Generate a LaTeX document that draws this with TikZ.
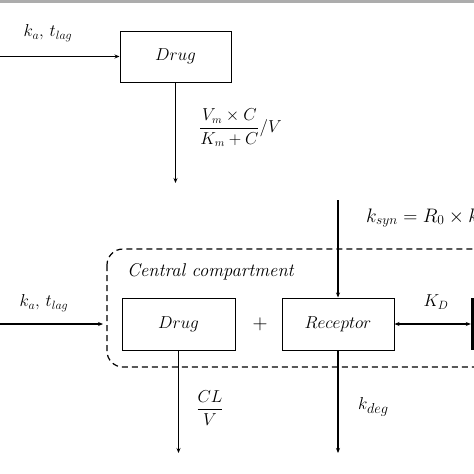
\documentclass[tikz,border=0pt]{standalone}
\usepackage{amsmath}
\usetikzlibrary{arrows.meta}
\begin{document}
\begin{tikzpicture}[x=1pt,y=-1pt,
  box/.style={draw,line width=1pt,minimum width=#1,minimum height=51pt,inner sep=0pt},
  lab/.style={inner sep=0pt,font=\fontsize{17}{20}\selectfont},
  flow/.style={line width=1.1pt,-{Stealth[length=5pt,width=4pt]}},
  both/.style={line width=1.1pt,{Stealth[length=5pt,width=4pt]}-{Stealth[length=5pt,width=4pt]}}]
\useasboundingbox (0,0) rectangle (474,474);
\clip (0,0) rectangle (474,474);
\fill[gray!65] (0,0) rectangle (474,2.5);
% top part
\node[box=111pt,lab] (drugT) at (175.5,56.5) {$Drug$};
\coordinate (inT) at (0,56.5);
\coordinate (outT) at (175.5,183);
\draw[flow] (inT) -- (drugT.west);
\draw[flow] (drugT.south) -- (outT);
\node[lab] (kaT) at (48,33) {$k_a,\, t_{lag}$};
\node[lab,anchor=west,font=\fontsize{16}{19}\selectfont] (vm) at (199,128) {$\dfrac{V_m\times C}{K_m+C}/V$};
% compartment
\draw[dashed,line width=1.2pt,dash pattern=on 6pt off 4pt,rounded corners=16pt] (107,249) rectangle (500,367);
\node[lab,anchor=west,font=\fontsize{18.5}{21}\selectfont] (cc) at (127,272) {\itshape Central compartment};
\node[box=113pt,lab,minimum height=52pt] (drugB) at (178.5,324) {$Drug$};
\node[lab,font=\fontsize{22}{24}\selectfont] (plus) at (260,324) {$+$};
\node[box=112pt,lab,minimum height=52pt] (rec) at (338,324) {$Receptor$};
\node[fill=black,minimum width=3pt,minimum height=52pt,inner sep=0pt] (bar) at (472.5,324) {};
\coordinate (inB) at (0,324);
\coordinate (inBend) at (103,324);
\draw[flow] (inB) -- (inBend);
\node[lab] (kaB) at (44,303) {$k_a,\, t_{lag}$};
\coordinate (syn) at (338,200);
\draw[flow] (syn) -- (rec.north);
\node[lab,anchor=west,scale=1.13,transform shape] (ksyn) at (366,218) {$k_{syn} = R_0\times k_{deg}$};
\draw[both] (rec.east) -- (bar.west);
\node[lab] (kd) at (436,302) {$K_D$};
\coordinate (outD) at (178.5,453);
\coordinate (outR) at (338,453);
\draw[flow] (drugB.south) -- (outD);
\draw[flow] (rec.south) -- (outR);
\node[lab,font=\fontsize{16}{19}\selectfont] (cl) at (210,408) {$\dfrac{CL}{V}$};
\node[lab,anchor=west,font=\fontsize{19}{22}\selectfont] (kdeg) at (358,407) {$k_{deg}$};
\end{tikzpicture}
\end{document}
